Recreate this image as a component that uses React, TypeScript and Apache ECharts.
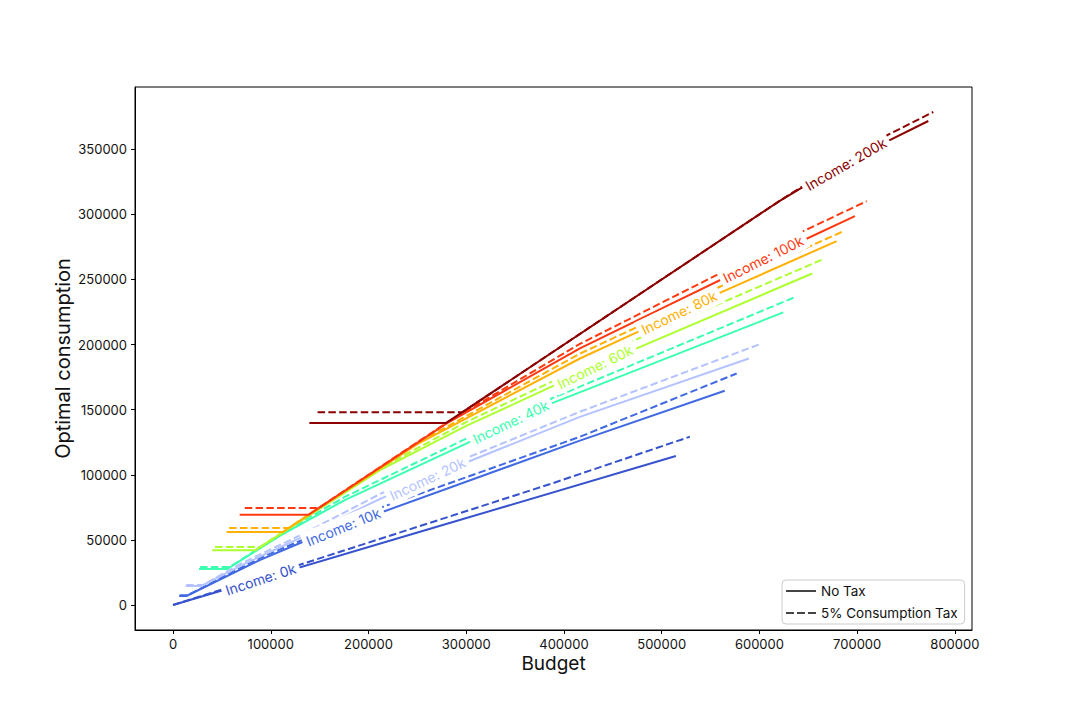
import { useEffect, useRef } from 'react';
import * as echarts from 'echarts';

const INCOME_LABELS = [
  'Income: 0k',
  'Income: 10k',
  'Income: 20k',
  'Income: 40k',
  'Income: 60k',
  'Income: 80k',
  'Income: 100k',
  'Income: 200k',
];
const COLORS = ['#3652cc', '#4169e1', '#b4c3ff', '#3affb0', '#adff2f', '#ffb000', '#ff3a10', '#8b0000'];

// [budget, optimal consumption]
const noTax0k = [[0, 0], [257000, 57200], [514500, 114400]];
const tax0k = [[0, 0], [128000, 30500], [386000, 92900], [528800, 129200]];
const noTax10k = [[6400, 6900], [13700, 6900], [88700, 34500], [133100, 48600], [214900, 71600], [416300, 126200], [564500, 164500]];
const tax10k = [[6800, 7400], [14800, 7400], [88700, 36000], [133100, 50200], [214900, 75400], [416300, 129200], [576700, 177800]];
const noTax20k = [[12900, 14600], [29200, 14600], [70000, 30500], [131400, 52000], [213000, 81900], [301900, 110000], [416300, 144500], [589200, 189300]];
const tax20k = [[13500, 15300], [30600, 15300], [70000, 32000], [131400, 54000], [213000, 85700], [301900, 113400], [416300, 148400], [600400, 200300]];
const noTax40k = [[26600, 27600], [55200, 27600], [110000, 53500], [175700, 80500], [303700, 125300], [387300, 154800], [624400, 224700]];
const tax40k = [[27700, 29200], [58400, 29200], [110000, 54500], [175700, 83000], [302000, 128500], [387300, 158600], [635600, 236200]];
const noTax60k = [[40100, 42000], [84000, 42000], [211700, 103600], [300000, 137500], [390700, 168800], [472600, 196500], [654000, 254600]];
const tax60k = [[43000, 44500], [89000, 44500], [211700, 105000], [300000, 140500], [387300, 171400], [472600, 203400], [664300, 265300]];
const noTax80k = [[54900, 56000], [112000, 56000], [250000, 123500], [416300, 189300], [475000, 209500], [559400, 239700], [679000, 279400]];
const tax80k = [[57400, 59100], [118200, 59100], [250000, 124500], [416300, 193000], [475000, 213500], [557800, 243800], [685800, 287000]];
const noTax100k = [[68200, 69400], [138800, 69400], [280000, 139500], [416300, 197000], [559400, 249400], [646600, 280700], [697700, 298600]];
const tax100k = [[73400, 74400], [148800, 74400], [280000, 140000], [416300, 200500], [557800, 254000], [643200, 286500], [709700, 310100]];
const noTax200k = [[139500, 139800], [279600, 139800], [620000, 310000], [640000, 319000], [660000, 327800], [700000, 344500], [731800, 356400], [772800, 371700]];
const tax200k = [[147900, 148100], [296200, 148100], [620000, 310000], [640000, 319500], [660000, 329000], [700000, 347000], [731800, 361200], [777900, 378600]];

const NO_TAX = [noTax0k, noTax10k, noTax20k, noTax40k, noTax60k, noTax80k, noTax100k, noTax200k];
const WITH_TAX = [tax0k, tax10k, tax20k, tax40k, tax60k, tax80k, tax100k, tax200k];

// where each inline label sits, and its tilt
const LABEL_POINTS = [
  [89600, 19900],
  [174100, 60100],
  [260300, 97000],
  [345500, 140700],
  [431600, 183000],
  [517800, 224700],
  [603800, 265700],
  [688400, 338700],
];
const LABEL_ANGLES = [18, 22, 25, 25.5, 26, 25.5, 26.5, 30];

const X_TICKS = [0, 100000, 200000, 300000, 400000, 500000, 600000, 700000, 800000];
const Y_TICKS = [0, 50000, 100000, 150000, 200000, 250000, 300000, 350000];

const FONT = 'Inter';
const DASH = [7.5, 3.3];
const SOLID_ICON = 'path://M0,0h30v2h-30z';
const DASH_ICON = 'path://M0,0h8v2h-8zM11,0h8v2h-8zM22,0h8v2h-8z';

export default function App() {
  const chartRef = useRef<HTMLDivElement>(null);

  useEffect(() => {
    if (!chartRef.current) return;
    const chart = echarts.init(chartRef.current, undefined, { renderer: 'svg' });

    const lineSeries = INCOME_LABELS.flatMap((name, i) => [
      {
        name: `${name} (No Tax)`,
        type: 'line',
        data: NO_TAX[i],
        symbol: 'none',
        silent: true,
        z: 2,
        lineStyle: { color: COLORS[i], width: 2, type: 'solid' },
        itemStyle: { color: COLORS[i] },
      },
      {
        name: `${name} (5% Consumption Tax)`,
        type: 'line',
        data: WITH_TAX[i],
        symbol: 'none',
        silent: true,
        z: 2,
        lineStyle: { color: COLORS[i], width: 2, type: DASH },
        itemStyle: { color: COLORS[i] },
      },
    ]);

    const tick = { show: true, inside: false, length: 4, lineStyle: { color: '#000', width: 1 } };

    chart.setOption({
      animation: false,
      textStyle: { fontFamily: FONT },
      grid: {
        left: 135,
        right: 108,
        top: 87,
        bottom: 90,
        show: true,
        borderColor: '#000',
        borderWidth: 1,
        backgroundColor: '#fff',
        outerBoundsMode: 'none',
      },
      legend: {
        data: [
          { name: 'No Tax', icon: SOLID_ICON },
          { name: '5% Consumption Tax', icon: DASH_ICON },
        ],
        orient: 'vertical',
        left: 782,
        top: 580,
        itemWidth: 30,
        itemHeight: 14,
        itemGap: 8,
        padding: [4, 7, 4, 4],
        backgroundColor: '#fff',
        borderColor: '#cccccc',
        borderWidth: 1,
        borderRadius: 4,
        selectedMode: false,
        textStyle: { fontSize: 13.5, color: '#111', fontFamily: FONT },
      },
      xAxis: {
        type: 'value',
        name: 'Budget',
        nameLocation: 'middle',
        nameGap: 24,
        nameMoveOverlap: false,
        nameTextStyle: { fontSize: 19, color: '#111', fontFamily: FONT },
        min: -38900,
        max: 817500,
        splitLine: { show: false },
        axisLine: { show: true, onZero: false, lineStyle: { color: '#000', width: 1 } },
        axisTick: { ...tick, customValues: X_TICKS },
        axisLabel: {
          customValues: X_TICKS,
          formatter: (v: number) => String(v),
          fontSize: 13,
          color: '#111',
          margin: 7,
          fontFamily: FONT,
        },
      },
      yAxis: {
        type: 'value',
        name: 'Optimal consumption',
        nameLocation: 'middle',
        nameGap: 62,
        nameMoveOverlap: false,
        nameTextStyle: { fontSize: 20, color: '#111', fontFamily: FONT },
        min: -19200,
        max: 397800,
        splitLine: { show: false },
        axisLine: { show: true, onZero: false, lineStyle: { color: '#000', width: 1 } },
        axisTick: { ...tick, customValues: Y_TICKS },
        axisLabel: {
          customValues: Y_TICKS,
          formatter: (v: number) => String(v),
          fontSize: 13,
          color: '#111',
          margin: 8,
          fontFamily: FONT,
        },
      },
      series: [
        ...lineSeries,
        {
          name: 'No Tax',
          type: 'line',
          data: [],
          symbol: 'none',
          lineStyle: { color: '#444', width: 2, type: 'solid' },
          itemStyle: { color: '#444' },
        },
        {
          name: '5% Consumption Tax',
          type: 'line',
          data: [],
          symbol: 'none',
          lineStyle: { color: '#444', width: 2, type: DASH },
          itemStyle: { color: '#444' },
        },
        {
          name: 'line labels',
          type: 'scatter',
          z: 10,
          silent: true,
          symbolSize: 1,
          itemStyle: { color: 'rgba(255,255,255,0)' },
          label: {
            show: true,
            position: 'inside',
            formatter: '{b}',
            fontSize: 14,
            fontFamily: FONT,
            opacity: 1,
            backgroundColor: '#ffffff',
            textBorderColor: '#ffffff',
            textBorderWidth: 6,
            padding: [3, 4],
          },
          data: LABEL_POINTS.map((p, i) => ({
            value: p,
            name: INCOME_LABELS[i],
            label: { color: COLORS[i], rotate: LABEL_ANGLES[i] },
          })),
        },
      ],
    });

    return () => {
      chart.dispose();
    };
  }, []);

  return (
    <div
      ref={chartRef}
      style={{ position: 'fixed', left: 0, top: 0, width: 1080, height: 720, background: '#fff' }}
    />
  );
}
